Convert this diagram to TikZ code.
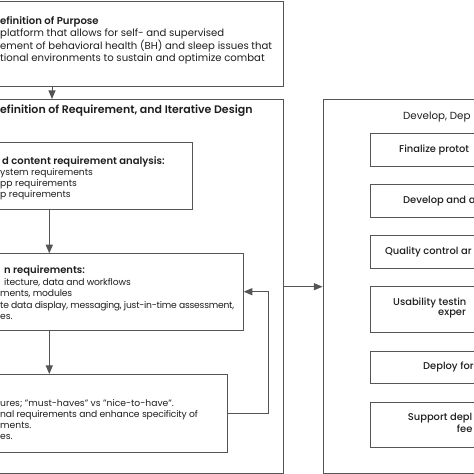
\documentclass[tikz,border=0pt]{standalone}
\usepackage{fontspec}
\setmainfont{Poppins}[BoldFont={Poppins SemiBold}]
\newfontfamily\medfont{Poppins Medium}
\usetikzlibrary{arrows}
\definecolor{linegray}{HTML}{555555}
\definecolor{inkgray}{HTML}{1E1E1E}
\tikzset{box/.style={draw=linegray, line width=1pt, anchor=north west, inner sep=0pt}}
\tikzset{txt/.style={anchor=north west, inner sep=0pt, align=left, text=inkgray,
  font=\fontsize{9.2}{11}\selectfont}}
\tikzset{lbl/.style={anchor=west, inner sep=0pt, text=inkgray, font=\medfont\fontsize{9.9}{10}\selectfont}}
\tikzset{arr/.style={draw=linegray, line width=1pt, -triangle 45}}
\newcommand{\tight}[1]{\addfontfeature{LetterSpace=#1}}

\begin{document}
\begin{tikzpicture}[x=1pt, y=-1pt]
  \useasboundingbox (0,0) rectangle (474,474);
  \clip (0,0) rectangle (474,474);

  % outer boxes
  \node [box, minimum width=303pt, minimum height=85pt] (purpose) at (-20, 1) {};
  \node [box, minimum width=303pt, minimum height=374pt] (req) at (-20, 99) {};
  \node [box, minimum width=200pt, minimum height=374pt] (dev) at (322.5, 99) {};

  % left inner boxes
  \node [box, minimum width=211.7pt, minimum height=67pt] (needs) at (-20, 142.3) {};
  \node [box, minimum width=262.7pt, minimum height=76.7pt] (specs) at (-20, 253.3) {};
  \node [box, minimum width=246.7pt, minimum height=77.7pt] (refine) at (-20, 374) {};

  % right inner boxes
  \node [box, minimum width=130pt, minimum height=32.4pt] (finalize) at (370, 133.3) {};
  \node [box, minimum width=130pt, minimum height=32.4pt] (develop) at (370, 184.3) {};
  \node [box, minimum width=130pt, minimum height=33pt] (quality) at (370, 235.3) {};
  \node [box, minimum width=130pt, minimum height=45.7pt] (usability) at (370, 286) {};
  \node [box, minimum width=130pt, minimum height=31.7pt] (deploy) at (370, 351) {};
  \node [box, minimum width=130pt, minimum height=45pt] (support) at (370, 401.7) {};

  % texts
  \node [txt, font=\fontsize{10.1}{12}\selectfont] (purposetext) at (0, 16.5) {{\bfseries efinition of Purpose}\\
    platform that allows for self- and supervised\\
    ement of behavioral health (BH) and sleep issues that\\
    tional environments to sustain and optimize combat};
  \node [txt, font=\bfseries\fontsize{11}{11}\selectfont] (reqtitle) at (0, 105) {efinition of Requirement, and Iterative Design};
  \node [txt] (needstext) at (0, 156.5) {{\bfseries\fontsize{10}{11}\selectfont\hspace*{2pt}d content requirement analysis:}\\
    ystem requirements\\
    pp requirements\\
    p requirements};
  \node [txt, font=\fontsize{9.2}{11.5}\selectfont] (specstext) at (0, 265.5) {{\bfseries\fontsize{10}{11.5}\selectfont\hspace*{4pt}n requirements:}\\
    {\tight{-1.5}\hspace*{4pt}itecture, data and workflows}\\
    {\tight{-1.5}ments, modules}\\
    {\tight{-2.5}te data display, messaging, just-in-time assessment,}\\
    es.};
  \node [txt] (refinetext) at (0, 399.5) {ures; "must-haves" vs "nice-to-have".\\
    {\tight{-1.5}nal requirements and enhance specificity of}\\
    ments.\\
    es.};

  \node [lbl, font=\fontsize{10.3}{11}\selectfont] (devtitle) at (403, 116.7) {Develop, Dep};
  \node [lbl] (finalizetext) at (399, 150) {Finalize protot};
  \node [lbl] (developtext) at (403, 200.7) {Develop and a};
  \node [lbl] (qualitytext) at (385, 251.7) {Quality control ar};
  \node [lbl] (usabilitytext) at (393, 303.3) {Usability testin};
  \node [lbl] (usabilitytextb) at (438, 314) {exper};
  \node [lbl] (deploytext) at (423, 367) {Deploy for};
  \node [lbl] (supporttext) at (407.7, 418.3) {Support depl};
  \node [lbl] (supporttextb) at (456.7, 429) {fee};

  % connectors
  \coordinate (downa) at (52, 0);
  \coordinate (downb) at (49.3, 0);
  \coordinate (link) at (0, 286.7);
  \coordinate (loopa) at (268.3, 413.3);
  \coordinate (loopb) at (268.3, 291.7);
  \draw [arr] (purpose.south -| downa) -- (req.north -| downa);
  \draw [arr] (needs.south -| downb) -- (specs.north -| downb);
  \draw [arr] (specs.south -| downb) -- (refine.north -| downb);
  \draw [arr] (refine.east |- loopa) -- (loopa) -- (loopb) -- (specs.east |- loopb);
  \draw [arr] (req.east |- link) -- (dev.west |- link);
\end{tikzpicture}
\end{document}
